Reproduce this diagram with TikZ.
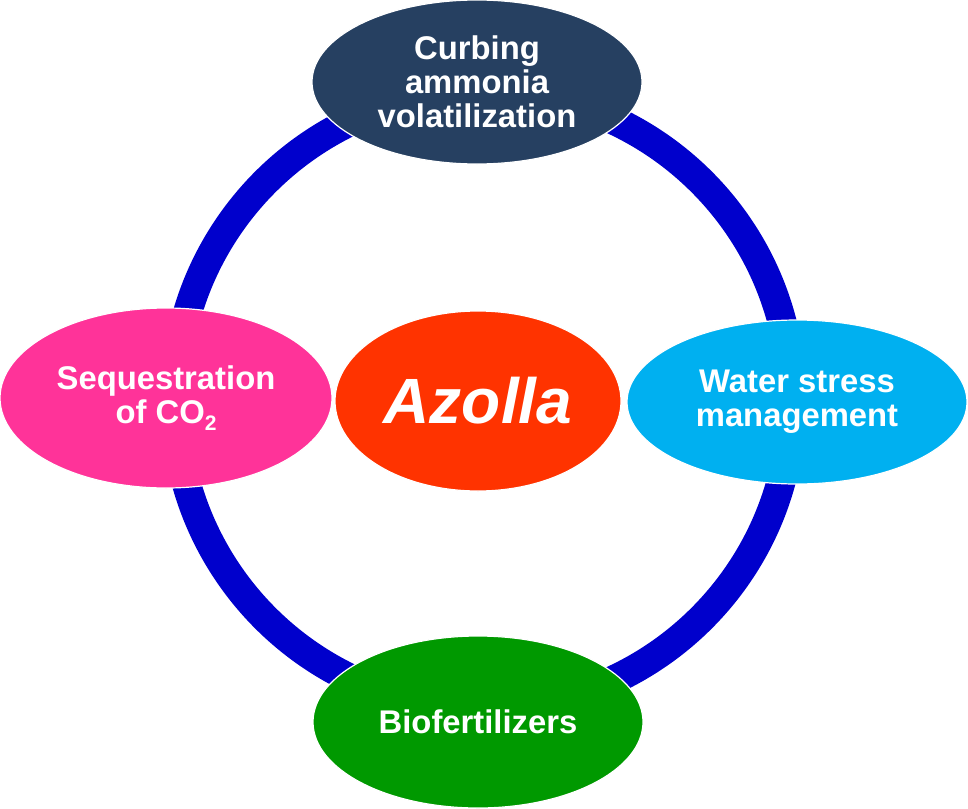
\documentclass[tikz,border=0pt]{standalone}
\usepackage{fontspec}
\setmainfont{Liberation Sans}
\usetikzlibrary{shapes.geometric}
\definecolor{ringblue}{HTML}{0000CC}
\definecolor{navy}{HTML}{264061}
\definecolor{hotpink}{HTML}{FF3399}
\definecolor{skyblue}{HTML}{00B0F0}
\definecolor{leafgreen}{HTML}{009900}
\definecolor{orangered}{HTML}{FF3300}
\tikzset{
  blob/.style={ellipse, draw=white, line width=1.2pt, inner sep=0pt, text=white, align=center,
    font=\fontsize{32.8}{34}\selectfont\bfseries},
  ringline/.style={draw=ringblue, line width=29pt}
}
\newcommand{\subtwo}{{\fontsize{21}{21}\selectfont\raisebox{-7pt}{2}}}
\begin{document}
\begin{tikzpicture}[x=1pt,y=-1pt]
\useasboundingbox (0,0) rectangle (968,808);
\coordinate (c) at (483.5,400);
\draw[ringline] (c) circle[radius=308.5];
\node[blob, fill=navy, minimum width=330, minimum height=164] (top) at (477,82) {Curbing\\ammonia\\volatilization};
\node[blob, fill=hotpink, minimum width=332, minimum height=180] (left) at (166,398) {Sequestration\\of CO\subtwo};
\node[blob, fill=skyblue, minimum width=340, minimum height=164] (right) at (797,402) {Water stress\\management};
\node[blob, fill=leafgreen, minimum width=330, minimum height=172] (bottom) at (478,722) {Biofertilizers};
\node[blob, fill=orangered, minimum width=286, minimum height=180, font=\fontsize{64}{66}\selectfont\bfseries\itshape] (mid) at (478,401) {Azolla};
\end{tikzpicture}
\end{document}
